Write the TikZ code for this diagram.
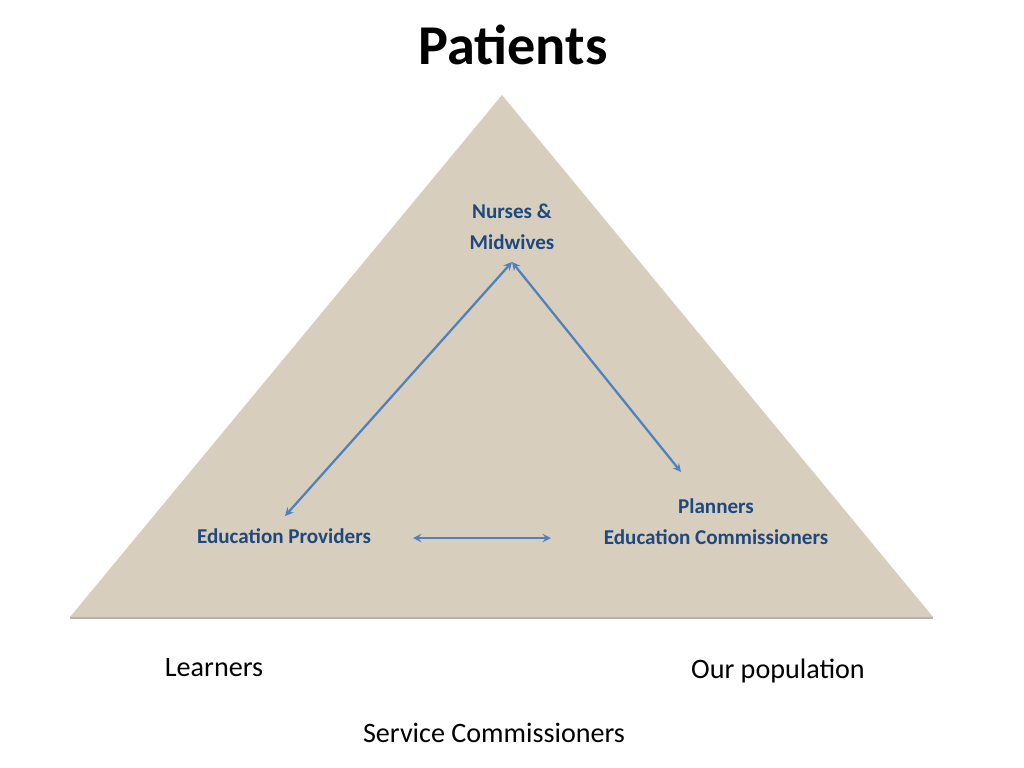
\documentclass[tikz,border=0pt]{standalone}
\usepackage{fontspec}
\setmainfont{Carlito}
\usetikzlibrary{positioning}
\definecolor{sand}{RGB}{216,206,190}
\definecolor{arrowblue}{RGB}{79,129,189}
\definecolor{textblue}{RGB}{31,73,125}
\tikzset{
  inner/.style={font=\fontsize{15}{22}\selectfont\bfseries, text=textblue, align=center},
  outer/.style={font=\fontsize{20}{24}\selectfont},
  link/.style={<->, >=stealth, arrowblue, line width=1.6pt}
}
\begin{document}
\begin{tikzpicture}[x=0.025cm, y=-0.025cm]
\useasboundingbox (0,0) rectangle (1024,768);
%the triangle
\fill [sand] (502,95) -- (933,617) -- (70,617) -- cycle;
\draw [gray!60, line width=1pt] (70,618) -- (933,618);
%the title
\node (patients) at (513,45) {\fontsize{40}{44}\selectfont\bfseries Patients};
%the corners
\node [inner] (nurses) at (512,227) {Nurses \&\\Midwives};
\node [inner] (providers) at (284,536) {Education Providers};
\node [inner] (planners) at (716,522) {Planners\\Education Commissioners};
\coordinate (nursesfoot) at (512,262);
\coordinate (providershead) at (285,516);
\coordinate (plannershead) at (681,472);
\coordinate (providersright) at (413,538);
\coordinate (plannersleft) at (551,538);
%the links
\draw [link] (nursesfoot) -- (providershead);
\draw [link] (nursesfoot) -- (plannershead);
\draw [link] (providersright) -- (plannersleft);
%below the base
\node [outer] (learners) at (214,668) {Learners};
\node [outer] (population) at (778,671) {Our population};
\node [outer] (service) at (494,733) {Service Commissioners};
\end{tikzpicture}
\end{document}
